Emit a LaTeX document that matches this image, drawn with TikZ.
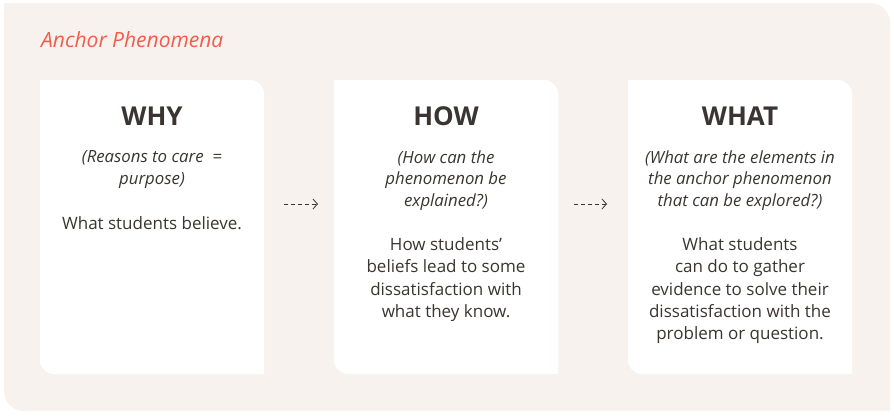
\documentclass[tikz,border=0pt]{standalone}
\usepackage{fontspec}
\setmainfont{Open Sans}
\usetikzlibrary{arrows.meta}
\definecolor{bgc}{HTML}{F8F2EE}
\definecolor{redc}{HTML}{F25C4C}
\definecolor{txt}{HTML}{3A3532}
\tikzset{
  card/.style={fill=white},
  head/.style={font=\fontsize{26}{30}\selectfont\bfseries, text=txt},
  sub/.style={font=\fontsize{16.8}{21.6}\selectfont\itshape, text=txt, align=center, anchor=north},
  body/.style={font=\fontsize{17}{22.3}\selectfont, text=txt, align=center, anchor=north},
  flow/.style={draw=txt, dashed, dash pattern=on 4pt off 3pt, line width=0.8pt, -{Straight Barb[length=4.5pt,width=10pt]}}
}
\begin{document}
\begin{tikzpicture}[x=1pt,y=-1pt]
\useasboundingbox (0,0) rectangle (894,416);
\fill[white] (0,0) rectangle (894,416);
% background panel
\fill[bgc] (4,3) -- (870,3) arc[start angle=270,end angle=360,radius=20] -- (890,411) -- (24,411) arc[start angle=90,end angle=180,radius=20] -- cycle;
\node[font=\fontsize{21}{24}\selectfont\itshape, text=redc, anchor=west, inner sep=0pt] (title) at (41,40) {Anchor Phenomena};
% cards
\foreach \x in {40,334,628}{
  \fill[card] (\x,80) -- (\x+210,80) arc[start angle=270,end angle=360,radius=14] -- (\x+224,374) -- (\x+14,374) arc[start angle=90,end angle=180,radius=14] -- cycle;
}
\node[head] (h1) at (152,116) {WHY};
\node[head] (h2) at (446,116) {HOW};
\node[head] (h3) at (740,116) {WHAT};
\node[sub] (s1) at (152,147) {(Reasons to care \ =\\purpose)};
\node[sub] (s2) at (446,147) {(How can the\\phenomenon be\\explained?)};
\node[sub] (s3) at (740,147) {(What are the elements in\\the anchor phenomenon\\that can be explored?)};
\node[body] (b1) at (152,213) {What students believe.};
\node[body] (b2) at (446,234) {How students’\\beliefs lead to some\\dissatisfaction with\\what they know.};
\node[body] (b3) at (740,234) {What students\\can do to gather\\evidence to solve their\\dissatisfaction with the\\problem or question.};
\coordinate (a1s) at (284,204);
\coordinate (a1e) at (318,204);
\coordinate (a2s) at (574,204);
\coordinate (a2e) at (607,204);
\draw[flow] (a1s) -- (a1e);
\draw[flow] (a2s) -- (a2e);
\end{tikzpicture}
\end{document}
